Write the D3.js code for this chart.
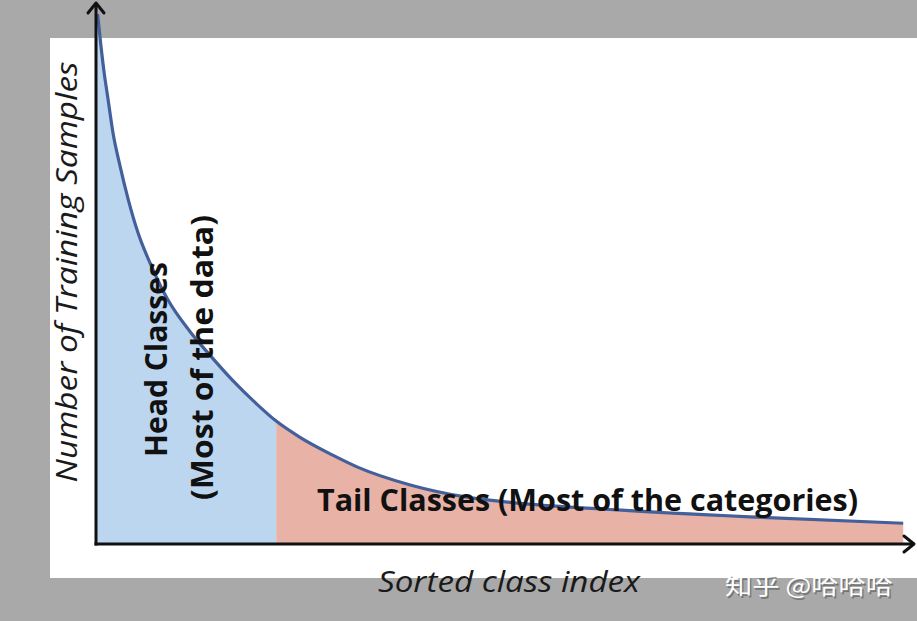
<!DOCTYPE html>
<html>
<head>
<meta charset="utf-8">
<script src="https://cdn.jsdelivr.net/npm/d3@7/dist/d3.min.js"></script>
<style>
  html, body { margin: 0; padding: 0; background: #a9a9a9; }
  svg { display: block; }
</style>
</head>
<body>
<svg id="chart" width="917" height="621"></svg>
<script>
// ---- data (class index sorted by frequency, number of samples, arbitrary units) ----
const classIndex = [2, 6, 10, 15, 21, 30, 40, 52, 69, 89, 116, 141, 170, 199, 223, 252, 293, 323, 389, 459, 521, 624, 809, 999];
const sampleCount = [996, 938, 887, 835, 773, 709, 647, 585, 521, 459, 400, 355, 306, 263, 231, 201, 167, 145, 111, 88, 77, 66, 51, 39];
const headTailSplit = 223;
const xLabel = "Sorted class index";
const yLabel = "Number of Training Samples";
const headLabel = ["Head Classes", "(Most of the data)"];
const tailLabel = "Tail Classes (Most of the categories)";
const watermark = "知乎 @哈哈哈";

const data = classIndex.map((c, i) => ({ x: c, y: sampleCount[i] }));

const svg = d3.select("#chart");

// white panel
svg.append("rect").attr("x", 50).attr("y", 38).attr("width", 867).attr("height", 540).attr("fill", "#ffffff");

const x = d3.scaleLinear().domain([0, 1000]).range([96, 904]);
const y = d3.scaleLinear().domain([0, 1000]).range([544, 12]);

const curve = d3.curveMonotoneX;
const area = d3.area().x(d => x(d.x)).y0(y(0)).y1(d => y(d.y)).curve(curve);
const line = d3.line().x(d => x(d.x)).y(d => y(d.y)).curve(curve);

const defs = svg.append("defs");
defs.append("clipPath").attr("id", "clipHead")
  .append("rect").attr("x", x(0)).attr("y", 0).attr("width", x(headTailSplit) - x(0)).attr("height", y(0));
defs.append("clipPath").attr("id", "clipTail")
  .append("rect").attr("x", x(headTailSplit)).attr("y", 0).attr("width", x(1000) - x(headTailSplit)).attr("height", y(0));

// fill left to axis: prepend a point at the axis
const fillData = [{ x: 0, y: sampleCount[0] }].concat(data);

svg.append("path").datum(fillData).attr("d", area).attr("fill", "#bcd6f0").attr("clip-path", "url(#clipHead)");
svg.append("path").datum(fillData).attr("d", area).attr("fill", "#e8b2a6").attr("clip-path", "url(#clipTail)");

svg.append("path").datum(data).attr("d", line)
  .attr("fill", "none").attr("stroke", "#44609a").attr("stroke-width", 3.2);

// axes with arrows
const axisColor = "#111";
const x0 = x(0), yb = y(0);
svg.append("line").attr("x1", x0).attr("y1", 3).attr("x2", x0).attr("y2", yb + 1.5)
  .attr("stroke", axisColor).attr("stroke-width", 3);
svg.append("line").attr("x1", x0 - 1.5).attr("y1", yb).attr("x2", 914).attr("y2", yb)
  .attr("stroke", axisColor).attr("stroke-width", 3);
svg.append("path").attr("d", `M${x0 - 8},${13} L${x0},${3} L${x0 + 8},${13}`)
  .attr("fill", "none").attr("stroke", axisColor).attr("stroke-width", 3).attr("stroke-linecap", "round").attr("stroke-linejoin", "round");
svg.append("path").attr("d", `M${904},${yb - 8} L${914},${yb} L${904},${yb + 8}`)
  .attr("fill", "none").attr("stroke", axisColor).attr("stroke-width", 3).attr("stroke-linecap", "round").attr("stroke-linejoin", "round");

const font = "'Open Sans', 'DejaVu Sans', sans-serif";

// axis titles
svg.append("text").text(yLabel)
  .attr("transform", "translate(77,272) rotate(-90)")
  .attr("text-anchor", "middle").attr("font-family", font).attr("font-style", "italic")
  .attr("font-size", 30).attr("fill", "#1a1a1a")
  .attr("textLength", 421).attr("lengthAdjust", "spacingAndGlyphs");

svg.append("text").text(xLabel)
  .attr("x", 509).attr("y", 592)
  .attr("text-anchor", "middle").attr("font-family", font).attr("font-style", "italic")
  .attr("font-size", 30).attr("fill", "#1a1a1a")
  .attr("textLength", 262).attr("lengthAdjust", "spacingAndGlyphs");

// region labels
svg.append("text").text(headLabel[0])
  .attr("transform", "translate(167,359.5) rotate(-90)")
  .attr("text-anchor", "middle").attr("font-family", font).attr("font-weight", "bold")
  .attr("font-size", 30).attr("fill", "#111")
  .attr("textLength", 195).attr("lengthAdjust", "spacingAndGlyphs");
svg.append("text").text(headLabel[1])
  .attr("transform", "translate(213,357.5) rotate(-90)")
  .attr("text-anchor", "middle").attr("font-family", font).attr("font-weight", "bold")
  .attr("font-size", 30).attr("fill", "#111")
  .attr("textLength", 285).attr("lengthAdjust", "spacingAndGlyphs");

svg.append("text").text(tailLabel)
  .attr("x", 587.5).attr("y", 511)
  .attr("text-anchor", "middle").attr("font-family", font).attr("font-weight", "bold")
  .attr("font-size", 31).attr("fill", "#111")
  .attr("textLength", 541).attr("lengthAdjust", "spacingAndGlyphs");

// watermark
svg.append("text").text(watermark)
  .attr("x", 809).attr("y", 594)
  .attr("text-anchor", "middle").attr("font-family", "'Noto Sans CJK SC', sans-serif")
  .attr("font-size", 23).attr("fill", "#555").attr("opacity", 0.6)
  .attr("transform", "translate(1.5,1.5)")
  .attr("textLength", 168).attr("lengthAdjust", "spacingAndGlyphs");
svg.append("text").text(watermark)
  .attr("x", 809).attr("y", 594)
  .attr("text-anchor", "middle").attr("font-family", "'Noto Sans CJK SC', sans-serif")
  .attr("font-size", 23).attr("fill", "#ffffff")
  .attr("textLength", 168).attr("lengthAdjust", "spacingAndGlyphs");
</script>
</body>
</html>
